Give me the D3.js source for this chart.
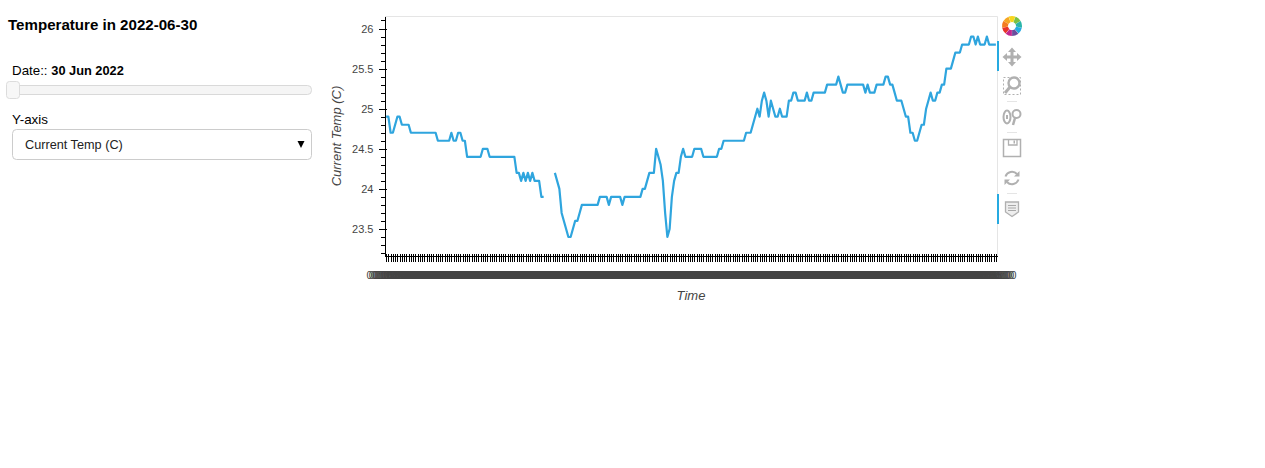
<!DOCTYPE html>
<html>
<head>
<meta charset="utf-8">
<script src="https://d3js.org/d3.v7.min.js"></script>
<style>
html,body{margin:0;padding:0;background:#fff;overflow:hidden}
svg{display:block}
text{font-family:"Liberation Sans",Arial,sans-serif}
</style>
</head>
<body>
<svg id="page" width="1265" height="468"></svg>
<script>
const currentTemp = [
24.9,24.9,24.7,24.7,24.8,24.9,24.9,24.8,24.8,24.8,
24.8,24.7,24.7,24.7,24.7,24.7,24.7,24.7,24.7,24.7,
24.7,24.7,24.7,24.6,24.6,24.6,24.6,24.6,24.6,24.7,
24.6,24.6,24.7,24.7,24.6,24.6,24.4,24.4,24.4,24.4,
24.4,24.4,24.4,24.5,24.5,24.5,24.4,24.4,24.4,24.4,
24.4,24.4,24.4,24.4,24.4,24.4,24.4,24.4,24.2,24.2,
24.1,24.2,24.1,24.2,24.1,24.2,24.1,24.1,24.1,23.9,
23.9,null,null,null,null,24.2,24.1,24.0,23.7,23.6,
23.5,23.4,23.4,23.5,23.6,23.6,23.7,23.8,23.8,23.8,
23.8,23.8,23.8,23.8,23.8,23.9,23.9,23.9,23.9,23.8,
23.9,23.9,23.9,23.9,23.9,23.8,23.9,23.9,23.9,23.9,
23.9,23.9,23.9,23.9,24.0,24.0,24.1,24.2,24.2,24.2,
24.5,24.4,24.3,24.1,23.7,23.4,23.5,23.9,24.1,24.2,
24.2,24.4,24.5,24.4,24.4,24.4,24.4,24.5,24.5,24.5,
24.5,24.4,24.4,24.4,24.4,24.4,24.4,24.4,24.5,24.5,
24.6,24.6,24.6,24.6,24.6,24.6,24.6,24.6,24.6,24.6,
24.7,24.7,24.7,24.8,24.9,25.0,24.9,25.1,25.2,25.1,
24.9,25.1,25.0,24.9,24.9,25.0,24.9,24.9,24.9,25.1,
25.1,25.2,25.2,25.1,25.1,25.1,25.1,25.2,25.1,25.1,
25.2,25.2,25.2,25.2,25.2,25.2,25.3,25.3,25.3,25.3,
25.3,25.4,25.3,25.2,25.2,25.3,25.3,25.3,25.3,25.3,
25.3,25.3,25.3,25.2,25.3,25.2,25.2,25.2,25.3,25.3,
25.3,25.3,25.4,25.4,25.3,25.3,25.2,25.1,25.1,25.1,
25.0,24.9,24.9,24.7,24.7,24.6,24.6,24.7,24.8,24.8,
25.0,25.1,25.2,25.1,25.1,25.2,25.2,25.3,25.3,25.5,
25.5,25.5,25.6,25.7,25.7,25.7,25.8,25.8,25.8,25.8,
25.9,25.9,25.8,25.9,25.8,25.8,25.8,25.9,25.8,25.8,25.8,25.8
];
const timeLabels = currentTemp.map((_, i) => {
  const m = i * 5;
  return d3.format("02")(Math.floor(m / 60)) + ":" + d3.format("02")(m % 60) + ":00";
});
const yMajorTicks = [23.5, 24, 24.5, 25, 25.5, 26];
const yMinorTicks = [23.2,23.3,23.4,23.6,23.7,23.8,23.9,24.1,24.2,24.3,24.4,24.6,24.7,24.8,24.9,25.1,25.2,25.3,25.4,25.6,25.7,25.8,25.9,26.1];
const yDomain = [23.163, 26.156];
const titleText = "Temperature in 2022-06-30";
const sliderLabel = "Date:: ";
const sliderValue = "30 Jun 2022";
const selectLabel = "Y-axis";
const selectValue = "Current Temp (C)";
const yTitle = "Current Temp (C)";
const xTitle = "Time";
const logoColors = ["#f6a623","#f7d51d","#7ac143","#2bb5a8","#26aae1","#6a4c9c","#c2278e","#e8332a","#f47b20"];

const svg = d3.select("#page");
const plot = {l: 385, r: 997, t: 16, b: 256};
const x = d3.scalePoint().domain(timeLabels).range([plot.l, plot.r]).padding(0.5);
const y = d3.scaleLinear().domain(yDomain).range([plot.b, plot.t]);
const LINE = "#2fa5de", AXIS = "#000", LABEL = "#444";

/* plot outline */
svg.append("path").attr("d", `M${plot.l},${plot.t + .5}H${plot.r + .5}V${plot.b}`)
  .attr("fill", "none").attr("stroke", "#e5e5e5");

/* series */
svg.append("path").datum(currentTemp)
  .attr("fill", "none").attr("stroke", LINE).attr("stroke-width", 2.2)
  .attr("stroke-linejoin", "round").attr("stroke-linecap", "butt")
  .attr("d", d3.line().defined(d => d !== null)
    .x((d, i) => x(timeLabels[i])).y(d => y(d)));

/* x axis */
const gx = svg.append("g").attr("transform", `translate(0,${plot.b})`)
  .call(d3.axisBottom(x).tickSizeInner(6).tickSizeOuter(0).tickPadding(9.5));
gx.select(".domain").attr("stroke", AXIS).attr("shape-rendering", "crispEdges");
gx.selectAll(".tick line").attr("y1", -2).attr("stroke", AXIS).attr("shape-rendering", "crispEdges");
gx.selectAll(".tick text").attr("fill", LABEL).attr("font-size", 10.3)
  .style("font-family", '"Liberation Sans",Arial,sans-serif');

/* y axis */
const gyMinor = svg.append("g").attr("transform", `translate(${plot.l},0)`)
  .call(d3.axisLeft(y).tickValues(yMinorTicks).tickSizeInner(4).tickSizeOuter(0).tickFormat(""));
gyMinor.select(".domain").remove();
gyMinor.selectAll(".tick line").attr("stroke", AXIS).attr("shape-rendering", "crispEdges");
const gy = svg.append("g").attr("transform", `translate(${plot.l},0)`)
  .call(d3.axisLeft(y).tickValues(yMajorTicks).tickSizeInner(6).tickSizeOuter(0).tickPadding(5.5).tickFormat(d3.format("")));
gy.select(".domain").attr("stroke", AXIS).attr("shape-rendering", "crispEdges");
gy.selectAll(".tick line").attr("x1", 2).attr("stroke", AXIS).attr("shape-rendering", "crispEdges");
gy.selectAll(".tick text").attr("fill", LABEL).attr("font-size", 11)
  .style("font-family", '"Liberation Sans",Arial,sans-serif');

/* axis titles */
svg.append("text").attr("transform", "translate(341,136) rotate(-90)").attr("text-anchor", "middle")
  .attr("font-size", 13).attr("font-style", "italic").attr("fill", LABEL).text(yTitle);
svg.append("text").attr("x", 691).attr("y", 300).attr("text-anchor", "middle")
  .attr("font-size", 13).attr("font-style", "italic").attr("fill", LABEL).text(xTitle);

/* left panel */
svg.append("text").attr("x", 8).attr("y", 30).attr("font-size", 15.1).attr("font-weight", "bold").attr("fill", "#000").text(titleText);
const dateT = svg.append("text").attr("x", 12).attr("y", 75).attr("font-size", 13.33).attr("fill", "#000");
dateT.append("tspan").text(sliderLabel);
dateT.append("tspan").attr("font-weight", "bold").attr("font-size", 12.8).text(sliderValue);
svg.append("rect").attr("x", 7.5).attr("y", 85.5).attr("width", 304).attr("height", 9).attr("rx", 4)
  .attr("fill", "#f5f5f5").attr("stroke", "#d9d9d9");
svg.append("rect").attr("x", 6.5).attr("y", 81.5).attr("width", 13).attr("height", 17).attr("rx", 3)
  .attr("fill", "#f7f7f7").attr("stroke", "#dcdcdc");
svg.append("text").attr("x", 12).attr("y", 124).attr("font-size", 13.4).attr("fill", "#000").text(selectLabel);
svg.append("rect").attr("x", 12.5).attr("y", 129.5).attr("width", 299).attr("height", 30).attr("rx", 4)
  .attr("fill", "#fff").attr("stroke", "#ccc");
svg.append("text").attr("x", 25).attr("y", 149).attr("font-size", 12.7).attr("fill", "#222").text(selectValue);
svg.append("path").attr("d", "M297.5,141H304.5L301,148Z").attr("fill", "#000");

/* toolbar accents */
svg.append("rect").attr("x", 997).attr("y", 41).attr("width", 2).attr("height", 30).attr("fill", "#26aae1");
svg.append("rect").attr("x", 997).attr("y", 194).attr("width", 2).attr("height", 30).attr("fill", "#26aae1");
[101.5, 132.5, 193.5].forEach(sy => {
  svg.append("line").attr("x1", 1007).attr("x2", 1017).attr("y1", sy).attr("y2", sy).attr("stroke", "#e5e5e5");
});

/* toolbar icons */
const logo = svg.append("g").attr("transform", "translate(1012,26)");
const arc = d3.arc().innerRadius(4).outerRadius(10).padAngle(0.02);
const slice = 2 * Math.PI / logoColors.length;
logoColors.forEach((c, i) => {
  logo.append("path").attr("d", arc({startAngle: (i - 1.5) * slice, endAngle: (i - 0.5) * slice})).attr("fill", c);
});
const ICON = "#b0b0b0";
const pan = svg.append("g").attr("transform", "translate(1012,57)").attr("fill", ICON);
pan.append("path").attr("d", "M-1.5,-6H1.5V-1.5H6V1.5H1.5V6H-1.5V1.5H-6V-1.5H-1.5Z");
pan.append("path").attr("d", "M0,-9.5L4,-5H-4ZM0,9.5L4,5H-4ZM-9.5,0L-5,-4V4ZM9.5,0L5,-4V4Z");
const bz = svg.append("g").attr("transform", "translate(1012,86)").attr("fill", "none").attr("stroke", ICON);
bz.append("rect").attr("x", -8.5).attr("y", -8.5).attr("width", 17).attr("height", 17).attr("stroke-dasharray", "2,2");
bz.append("circle").attr("cx", 2).attr("cy", -3).attr("r", 5.5).attr("stroke-width", 2.4).attr("fill", "#fff");
bz.append("line").attr("x1", -2).attr("y1", 1).attr("x2", -7).attr("y2", 7).attr("stroke-width", 3);
const wz = svg.append("g").attr("transform", "translate(1012,117)").attr("fill", "none").attr("stroke", ICON).attr("stroke-width", 2);
wz.append("ellipse").attr("cx", -5).attr("cy", 0).attr("rx", 3.5).attr("ry", 6.5);
wz.append("line").attr("x1", -5).attr("y1", -2).attr("x2", -5).attr("y2", 2);
wz.append("circle").attr("cx", 4.5).attr("cy", -3).attr("r", 4);
wz.append("line").attr("x1", 3).attr("y1", 1).attr("x2", 1).attr("y2", 8).attr("stroke-width", 2.5);
const sv = svg.append("g").attr("transform", "translate(1012,148)").attr("fill", "none").attr("stroke", ICON).attr("stroke-width", 1.5);
sv.append("rect").attr("x", -8.5).attr("y", -8.5).attr("width", 17).attr("height", 17);
sv.append("path").attr("d", "M-3.5,-8.5V-3H5V-8.5").attr("stroke-width", 1.3);
sv.append("rect").attr("x", 1.5).attr("y", -7.5).attr("width", 1.5).attr("height", 3).attr("fill", ICON).attr("stroke", "none");
const rs = svg.append("g").attr("transform", "translate(1012,178)").attr("fill", "none").attr("stroke", ICON).attr("stroke-width", 2);
rs.append("path").attr("d", "M-6.5,-1.5A6.8,6.8 0 0 1 5,-4");
rs.append("path").attr("d", "M6.5,1.5A6.8,6.8 0 0 1 -5,4");
rs.append("path").attr("d", "M7.5,-7V-1.5H2ZM-7.5,7V1.5H-2Z").attr("fill", ICON).attr("stroke", "none");
const hv = svg.append("g").attr("transform", "translate(1012,209)");
hv.append("path").attr("d", "M-6.5,-7H6.5V3L0,7.5L-6.5,3Z").attr("fill", "#eeeeee").attr("stroke", ICON).attr("stroke-width", 1.3);
hv.append("path").attr("d", "M-4,-3.5H4M-4,-1H4M-4,1.5H4").attr("stroke", "#a8a8a8").attr("stroke-width", 1);
</script>
</body>
</html>
